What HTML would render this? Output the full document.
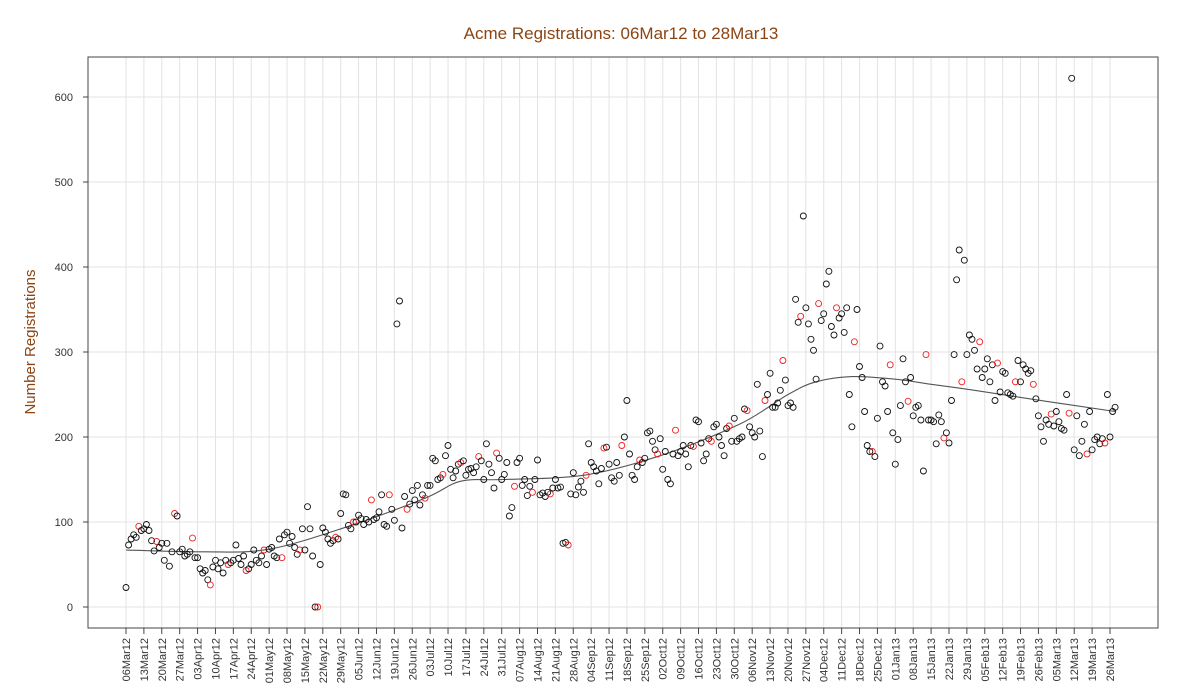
<!DOCTYPE html>
<html><head><meta charset="utf-8"><style>
html,body{margin:0;padding:0;background:#fff;}
svg{display:block;font-family:"Liberation Sans",Arial,sans-serif;}
</style></head><body>
<svg id="chart" width="1200" height="700" viewBox="0 0 1200 700" xmlns="http://www.w3.org/2000/svg">
<text x="621" y="39" text-anchor="middle" font-size="17" fill="#8B4513">Acme Registrations: 06Mar12 to 28Mar13</text>
<text transform="translate(35,342) rotate(-90)" text-anchor="middle" font-size="15" fill="#8B4513">Number Registrations</text>
<g id="grid"></g>
<g id="axes"></g>
<g id="marks"></g>
<rect x="88" y="57" width="1070" height="571" fill="none" stroke="#444" stroke-width="1"/>
</svg>
<script>
// daily registrations starting 06Mar12 (Tuesday); index%7==5 are Sundays (red)
const values = [
23,73,80,85,82,95,90, 92,97,90,78,66,77,70, 75,55,75,48,65,110,107, 65,68,60,62,65,81,58,
58,45,40,43,32,26,47, 55,45,52,40,55,50,52, 55,73,57,50,60,43,45, 50,67,55,52,60,67,50,
68,70,60,58,80,58,85, 88,75,83,70,62,67,92, 67,118,92,60,0,0,50, 93,88,80,75,78,82,80,
110,133,132,96,92,100,100, 108,104,97,103,100,126,103, 105,112,132,97,95,132,115, 102,333,360,93,130,115,121,
137,126,143,120,132,128,143, 143,175,172,150,152,156,178, 190,162,152,160,168,170,172, 155,162,163,158,165,177,172,
150,192,168,158,140,181,175, 150,156,170,107,117,142,170, 175,143,150,131,142,135,150, 173,132,134,130,135,133,140,
150,140,141,75,76,73,133, 158,132,141,148,135,155,192, 170,165,160,145,163,187,188, 168,152,148,170,155,190,200,
243,180,155,150,165,173,170, 175,205,207,195,185,180,198, 162,183,150,145,180,208,178, 183,190,180,165,190,189,220,
218,193,172,180,198,195,212, 215,200,190,178,210,213,195, 222,195,198,200,233,231,212, 205,200,262,207,177,243,250,
275,235,235,240,255,290,267, 237,240,235,362,335,342,460, 352,333,315,302,268,357,337, 345,380,395,330,320,352,340,
345,323,352,250,212,312,350, 283,270,230,190,183,183,177, 222,307,265,260,230,285,205, 168,197,237,292,265,242,270,
225,235,237,220,160,297,220, 220,218,192,226,218,199,205, 193,243,297,385,420,265,408, 297,320,315,302,280,312,270,
280,292,265,285,243,287,253, 277,275,252,250,248,265,290, 265,285,280,275,278,262,245, 225,212,195,220,215,227,213,
230,218,210,208,250,228,622, 185,225,178,195,215,180,230, 185,197,200,192,198,193,250, 200,230,235
];
const smoothDays = [0,30,56,87,117,131,148,179,209,240,259,270,284,301,315,332,360,387];
const smoothVals = [67,65,68,95,128,148,150,155,178,215,250,265,271,268,262,255,242,230];
const yTicks = [0,100,200,300,400,500,600];
const months = ["Jan","Feb","Mar","Apr","May","Jun","Jul","Aug","Sep","Oct","Nov","Dec"];

const NS="http://www.w3.org/2000/svg";
const x0=126, pxPerDay=984/385, yZero=607, pxPerUnit=0.85;
const xs=d=>x0+d*pxPerDay;
const ys=v=>yZero-v*pxPerUnit;
function mk(tag,attrs,parent){const e=document.createElementNS(NS,tag);for(const k in attrs)e.setAttribute(k,attrs[k]);parent.appendChild(e);return e;}
const grid=document.getElementById('grid'),axes=document.getElementById('axes'),marks=document.getElementById('marks');
const start=new Date(Date.UTC(2012,2,6));
function lbl(d){const t=new Date(start.getTime()+d*86400000);return String(t.getUTCDate()).padStart(2,'0')+months[t.getUTCMonth()]+String(t.getUTCFullYear()).slice(2);}
for(let d=0;d<=385;d+=7){
  const x=xs(d);
  const g=mk('line',{x1:x,x2:x,y1:57,y2:628,stroke:'#e3e3e3','stroke-width':1},grid);
  
  
  const t=mk('line',{x1:x,x2:x,y1:628,y2:634,stroke:'#444'},axes);
  
  
  const tx=mk('text',{transform:`translate(${x+4},638) rotate(-90)`,'text-anchor':'end','font-size':11,fill:'#333'},axes);
  
  
  tx.textContent=lbl(d);
}
yTicks.forEach(v=>{
  const y=ys(v);
  const g=mk('line',{x1:88,x2:1158,y1:y,y2:y,stroke:'#e3e3e3'},grid);
  
  
  const t=mk('line',{x1:83,x2:88,y1:y,y2:y,stroke:'#444'},axes);
  
  
  const tx=mk('text',{x:73,y:y+4,'text-anchor':'end','font-size':11,fill:'#333'},axes);
  
  
  tx.textContent=v;
});
// Catmull-Rom smoothed trend
const P=smoothDays.map((d,i)=>[xs(d),ys(smoothVals[i])]);
let dpath='M'+P[0][0].toFixed(1)+','+P[0][1].toFixed(1);
for(let i=0;i<P.length-1;i++){
  const p0=P[Math.max(0,i-1)],p1=P[i],p2=P[i+1],p3=P[Math.min(P.length-1,i+2)];
  const c1=[p1[0]+(p2[0]-p0[0])/6,p1[1]+(p2[1]-p0[1])/6];
  const c2=[p2[0]-(p3[0]-p1[0])/6,p2[1]-(p3[1]-p1[1])/6];
  dpath+=`C${c1[0].toFixed(1)},${c1[1].toFixed(1)} ${c2[0].toFixed(1)},${c2[1].toFixed(1)} ${p2[0].toFixed(1)},${p2[1].toFixed(1)}`;
}
const sl=mk('path',{d:dpath,fill:'none',stroke:'#555','stroke-width':1.1,'stroke-linejoin':'round'},marks);


values.forEach((v,i)=>{
  const red=i%7===5;
  const c=mk('circle',{cx:xs(i).toFixed(1),cy:ys(v).toFixed(1),r:3,fill:'none',stroke:red?'#f02020':'#111','stroke-width':0.9},marks);
  
  
});
</script>
</body></html>
